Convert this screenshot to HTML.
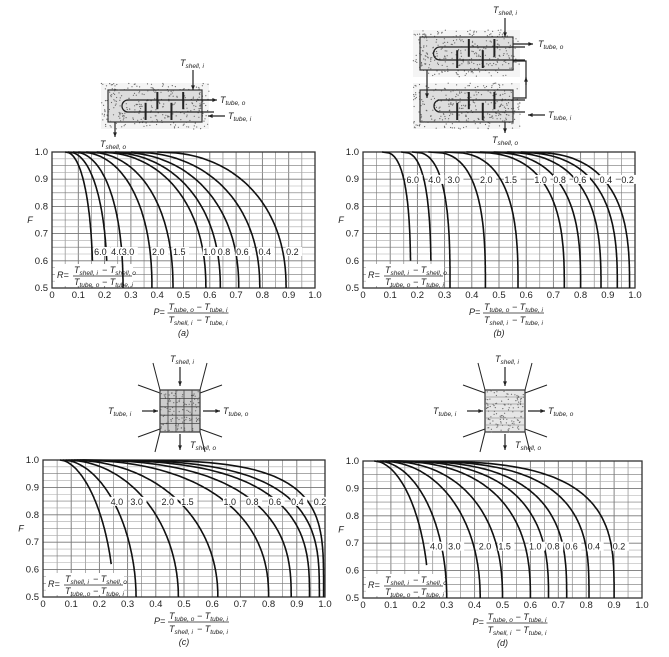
<!DOCTYPE html>
<html><head><meta charset="utf-8"><style>
html,body{margin:0;padding:0;background:#fff}
svg{display:block}
text{font-family:"Liberation Sans",sans-serif;fill:#222}
.it{font-style:italic}
</style></head><body>
<svg id="s" width="669" height="657" viewBox="0 0 669 657" xmlns="http://www.w3.org/2000/svg"></svg>
<script>
const S=document.getElementById('s');let h='';
function L(x1,y1,x2,y2,w,c){h+=`<line x1="${x1}" y1="${y1}" x2="${x2}" y2="${y2}" stroke="${c||'#222'}" stroke-width="${w||1}"/>`;}
function T(x,y,t,sz,cls,anc){h+=`<text x="${x}" y="${y}" font-size="${sz||9}" ${cls?'class="'+cls+'"':''} text-anchor="${anc||'start'}">${t}</text>`;}
function arrow(x1,y1,x2,y2){L(x1,y1,x2,y2,1.2);const a=Math.atan2(y2-y1,x2-x1),l=5;
h+=`<polygon points="${x2},${y2} ${x2-l*Math.cos(a-0.4)},${y2-l*Math.sin(a-0.4)} ${x2-l*Math.cos(a+0.4)},${y2-l*Math.sin(a+0.4)}" fill="#222"/>`;}
function sub(x,y,main,s){h+=`<text x="${x}" y="${y}" font-size="9" class="it">${main}<tspan font-size="6.5" dy="2">${s}</tspan></text>`;}
function panel(P){
 const {x0,x1,y0,y1}=P;const X=p=>x0+(x1-x0)*p,Y=f=>y1-(y1-y0)*(f-0.5)/0.5;
 const g=(u,n)=>Math.pow(1-Math.pow(1-u,n),1/n);
 for(let i=1;i<20;i++){L(X(i/20),y0,X(i/20),y1,i%2?0.6:0.9,'#777');}
 for(let i=1;i<20;i++){const f=0.5+i*0.025;L(x0,Y(f),x1,Y(f),i%4==0?0.9:0.6,i%2?'#aaa':'#777');}
 h+=`<rect x="${x0}" y="${y0}" width="${x1-x0}" height="${y1-y0}" fill="none" stroke="#333" stroke-width="1.3"/>`;
 for(let i=0;i<=5;i++){T(x0-4,Y(0.5+i*0.1)+3,(0.5+i*0.1).toFixed(1),9.5,'','end');}
 for(let i=0;i<=10;i++){T(X(i/10),y1+10,i==0?'0':(i/10).toFixed(1),9.5,'','middle');}
 T(x0-22,(y0+y1)/2+3,'F',9,'it','middle');
 h+=`<rect x="${x0+3}" y="${y1-24}" width="78" height="22" fill="#fff"/>`;
 T(x0+5,y1-10,'R=',9,'it');
 sub(x0+22,y1-15,'T','shell, i');sub(x0+50,y1-15,'− T','shell, o');
 L(x0+21,y1-12,x0+80,y1-12,0.8);
 sub(x0+22,y1-3,'T','tube, o');sub(x0+50,y1-3,'− T','tube, i');
 P.c.forEach(c=>{const [r,p0,p1,fmin]=c;const n=c[5]||P.n;let d='';const N=150;
  for(let i=0;i<=N;i++){const u=i/N;const f=1-0.5*u;if(f<fmin-1e-9)break;const p=p0+(p1-p0)*g(u,n);
   d+=(i?'L':'M')+X(p).toFixed(1)+','+Y(f).toFixed(1);}
  h+=`<path d="${d}" fill="none" stroke="#111" stroke-width="1.6"/>`;
 });
 P.c.forEach(c=>{const x=X(c[4]);
  h+=`<rect x="${x-0.5}" y="${Y(P.lf)-7}" width="${c[0].length*5.2+1}" height="9" fill="#fff"/>`;T(x,Y(P.lf)+1,c[0],9);});
 const cx=(x0+x1)/2;
 T(cx-30,y1+27,'P=',9,'it');sub(cx-15,y1+22,'T','tube, o');sub(cx+13,y1+22,'− T','tube, i');
 L(cx-16,y1+25,cx+45,y1+25,0.8);sub(cx-15,y1+35,'T','shell, i');sub(cx+13,y1+35,'− T','tube, i');
 T(cx,y1+48,'('+P.nm+')',9,'it','middle');
}
panel({x0:52,x1:315,y0:152,y1:288,n:2.2,lf:0.625,nm:'a',c:[
['6.0',0.05,0.155,0.6,0.16],['4.0',0.06,0.21,0.6,0.225],['3.0',0.08,0.27,0.5,0.265],['2.0',0.1,0.38,0.5,0.38],['1.5',0.13,0.46,0.5,0.46],
['1.0',0.17,0.585,0.5,0.575],['0.8',0.2,0.64,0.5,0.63],['0.6',0.24,0.71,0.5,0.70],['0.4',0.3,0.79,0.5,0.785],['0.2',0.4,0.89,0.5,0.89]]});
panel({x0:363,x1:635,y0:152,y1:288,n:2.8,lf:0.89,nm:'b',c:[
['6.0',0.07,0.175,0.6,0.16],['4.0',0.14,0.25,0.6,0.24],['3.0',0.18,0.32,0.5,0.31],['2.0',0.24,0.45,0.5,0.43],['1.5',0.3,0.57,0.5,0.52],
['1.0',0.38,0.74,0.5,0.63],['0.8',0.43,0.8,0.5,0.70],['0.6',0.48,0.875,0.5,0.775],['0.4',0.53,0.935,0.5,0.87],['0.2',0.58,0.98,0.5,0.95]]});
panel({x0:43,x1:325,y0:460,y1:597,n:2.0,lf:0.84,nm:'c',c:[
['4.0',0.06,0.25,0.62,0.24,1.8],['3.0',0.07,0.33,0.5,0.31,1.9],['2.0',0.08,0.48,0.5,0.42,2.0],['1.5',0.09,0.62,0.5,0.49,2.1],
['1.0',0.1,0.8,0.5,0.64,2.3],['0.8',0.11,0.88,0.5,0.72,2.6],['0.6',0.12,0.945,0.5,0.80,2.9],['0.4',0.13,0.98,0.5,0.88,3.2],['0.2',0.14,0.995,0.5,0.96,4]]});
panel({x0:363,x1:642,y0:461,y1:598,n:1.9,lf:0.68,nm:'d',c:[
['4.0',0.04,0.235,0.62,0.24,1.9],['3.0',0.05,0.3,0.5,0.305,2.0],['2.0',0.06,0.42,0.5,0.415,2.1],['1.5',0.07,0.5,0.5,0.485,2.3],
['1.0',0.08,0.6,0.5,0.595,2.5],['0.8',0.09,0.665,0.5,0.66,2.7],['0.6',0.1,0.73,0.5,0.725,2.9],['0.4',0.11,0.81,0.5,0.805,3.1],['0.2',0.12,0.9,0.5,0.895,3.3]]});
function stip(x,y,w,hh,n){let s='';for(let i=0;i<n;i++){s+=`<circle cx="${(x+Math.random()*w).toFixed(1)}" cy="${(y+Math.random()*hh).toFixed(1)}" r="0.6" fill="#666"/>`;}h+=s;}
function shellU(x,y,w,hh){
 h+=`<rect x="${x-7}" y="${y-7}" width="${w+14}" height="${hh+14}" fill="#f4f4f4"/>`;stip(x-7,y-7,w+14,hh+14,260);
 h+=`<rect x="${x}" y="${y}" width="${w}" height="${hh}" fill="#ddd" stroke="#333" stroke-width="1.2"/>`;stip(x,y,w,hh,200);
 h+=`<path d="M${x+w+12},${y+10} H${x+20} A${(hh-20)/2},${(hh-20)/2} 0 0 0 ${x+20},${y+hh-10} H${x+w+12}" fill="none" stroke="#222" stroke-width="1.3"/>`;
 const q=w/4;L(x+q*2.1,y+2,x+q*2.1,y+hh*0.6,2);L(x+q*3.2,y+2,x+q*3.2,y+hh*0.6,2);
 L(x+q*1.6,y+hh*0.4,x+q*1.6,y+hh-2,2);L(x+q*2.7,y+hh*0.4,x+q*2.7,y+hh-2,2);
}
shellU(108,90,94,32);
arrow(193,70,193,90);sub(180,66,'T','shell, i');
arrow(202,100,217,100);sub(220,103,'T','tube, o');
arrow(225,116,208,116);sub(228,119,'T','tube, i');
arrow(115,122,115,137);sub(100,147,'T','shell, o');
shellU(420,37,93,33);shellU(420,90,93,32);
arrow(505,18,505,37);sub(493,13,'T','shell, i');
arrow(513,44,533,44);sub(538,47,'T','tube, o');
h+=`<path d="M513,61 H526 V98 H513" fill="none" stroke="#222" stroke-width="1.2"/>`;arrow(526,85,526,77);
arrow(427,70,427,98);
arrow(545,115,528,115);sub(548,118,'T','tube, i');
arrow(505,122,505,133);sub(492,143,'T','shell, o');
function cross(cx,cy,dark){const x=cx-20,y=cy-21;
 L(x,y,x-7,y-27);L(x+40,y,x+47,y-27);L(x,y+3,x-22,y-5);L(x,y+39,x-22,y+47);L(x+40,y+3,x+62,y-5);L(x+40,y+39,x+62,y+47);
 L(x,y+42,x-5,y+62);L(x+40,y+42,x+45,y+62);
 h+=`<rect x="${x}" y="${y}" width="40" height="42" fill="${dark?'#ccc':'#e6e6e6'}" stroke="#333" stroke-width="1.2"/>`;stip(x,y,40,42,120);
 if(dark){for(let i=1;i<5;i++){L(x+i*8,y,x+i*8,y+42,0.8,'#444');L(x,y+i*8.4,x+40,y+i*8.4,0.8,'#444');}}
 else{for(let i=1;i<6;i++)L(x,y+i*7,x+40,y+i*7,0.6,'#777');}
 arrow(cx,y-23,cx,y-4);sub(cx-10,y-28,'T','shell, i');
 arrow(x-18,cy,x-2,cy);sub(x-52,cy+3,'T','tube, i');
 arrow(x+43,cy,x+60,cy);sub(x+63,cy+3,'T','tube, o');
 arrow(cx,y+44,cx,y+60);sub(cx+10,y+58,'T','shell, o');
}
cross(180,411,true);cross(505,411,false);
S.innerHTML=h;
</script>
</body></html>
